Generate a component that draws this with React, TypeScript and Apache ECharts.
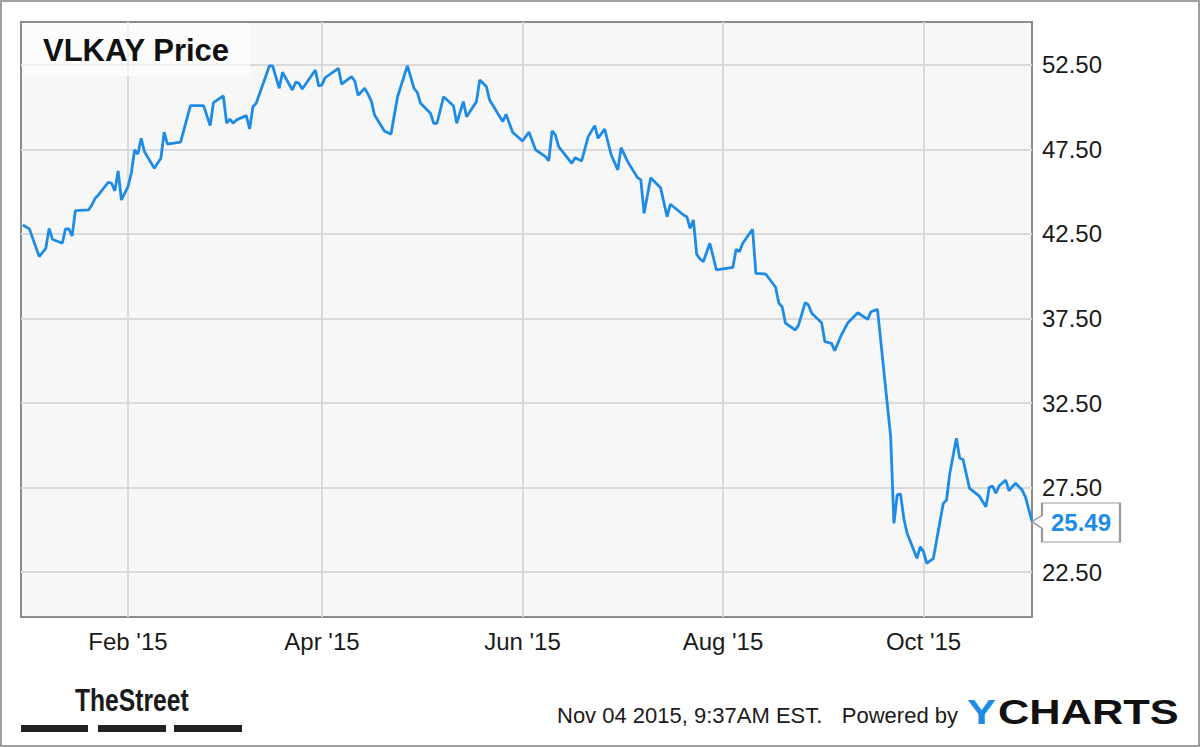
import React, { useEffect, useRef } from "react";
import * as echarts from "echarts";

// ---- data ----
const dates = [
  "2014-12-31", "2015-01-02", "2015-01-05", "2015-01-07", "2015-01-08", "2015-01-09", "2015-01-12", "2015-01-13",
  "2015-01-14", "2015-01-15", "2015-01-16", "2015-01-20", "2015-01-21", "2015-01-22", "2015-01-23", "2015-01-26",
  "2015-01-27", "2015-01-28", "2015-01-29", "2015-01-30", "2015-02-01", "2015-02-02", "2015-02-03", "2015-02-04",
  "2015-02-05", "2015-02-06", "2015-02-09", "2015-02-11", "2015-02-12", "2015-02-13", "2015-02-17", "2015-02-20",
  "2015-02-24", "2015-02-26", "2015-02-27", "2015-03-02", "2015-03-03", "2015-03-04", "2015-03-05", "2015-03-06",
  "2015-03-09", "2015-03-10", "2015-03-11", "2015-03-12", "2015-03-16", "2015-03-17", "2015-03-19", "2015-03-20",
  "2015-03-23", "2015-03-24", "2015-03-25", "2015-03-26", "2015-03-30", "2015-03-31", "2015-04-01", "2015-04-02",
  "2015-04-06", "2015-04-07", "2015-04-10", "2015-04-11", "2015-04-12", "2015-04-14", "2015-04-15", "2015-04-16",
  "2015-04-17", "2015-04-20", "2015-04-22", "2015-04-24", "2015-04-27", "2015-04-29", "2015-04-30", "2015-05-01",
  "2015-05-04", "2015-05-05", "2015-05-06", "2015-05-08", "2015-05-11", "2015-05-12", "2015-05-14", "2015-05-15",
  "2015-05-18", "2015-05-19", "2015-05-21", "2015-05-22", "2015-05-26", "2015-05-27", "2015-05-29", "2015-06-01",
  "2015-06-03", "2015-06-05", "2015-06-08", "2015-06-09", "2015-06-10", "2015-06-11", "2015-06-12", "2015-06-16",
  "2015-06-17", "2015-06-19", "2015-06-21", "2015-06-23", "2015-06-24", "2015-06-26", "2015-06-28", "2015-06-30",
  "2015-07-01", "2015-07-03", "2015-07-06", "2015-07-07", "2015-07-08", "2015-07-10", "2015-07-13", "2015-07-15",
  "2015-07-16", "2015-07-20", "2015-07-21", "2015-07-22", "2015-07-23", "2015-07-24", "2015-07-25", "2015-07-26",
  "2015-07-28", "2015-07-30", "2015-08-04", "2015-08-05", "2015-08-06", "2015-08-07", "2015-08-10", "2015-08-11",
  "2015-08-14", "2015-08-17", "2015-08-18", "2015-08-19", "2015-08-20", "2015-08-23", "2015-08-24", "2015-08-26",
  "2015-08-27", "2015-08-28", "2015-08-31", "2015-09-01", "2015-09-03", "2015-09-04", "2015-09-06", "2015-09-08",
  "2015-09-11", "2015-09-14", "2015-09-15", "2015-09-17", "2015-09-21", "2015-09-22", "2015-09-23", "2015-09-24",
  "2015-09-25", "2015-09-26", "2015-09-29", "2015-09-30", "2015-10-01", "2015-10-02", "2015-10-04", "2015-10-05",
  "2015-10-07", "2015-10-08", "2015-10-09", "2015-10-11", "2015-10-12", "2015-10-13", "2015-10-15", "2015-10-18",
  "2015-10-20", "2015-10-21", "2015-10-22", "2015-10-23", "2015-10-24", "2015-10-26", "2015-10-27", "2015-10-28",
  "2015-10-29", "2015-10-31", "2015-11-01", "2015-11-03",
];

const prices = [
  43.03, 42.8, 41.16, 41.65, 42.83, 42.19, 41.95, 42.8,
  42.8, 42.38, 43.88, 43.92, 44.22, 44.61, 44.81, 45.56,
  45.5, 45.05, 46.23, 44.51, 45.3, 46.09, 47.47, 47.23,
  48.16, 47.37, 46.39, 46.98, 48.52, 47.81, 47.93, 50.09,
  50.09, 48.91, 50.27, 50.67, 49.05, 49.3, 49.05, 49.25,
  49.5, 48.71, 50.03, 50.23, 52.44, 52.44, 51.12, 52.07,
  51.02, 51.48, 51.42, 51.08, 52.2, 51.26, 51.32, 51.75,
  52.3, 51.36, 51.81, 51.55, 50.7, 51.12, 50.77, 50.37,
  49.54, 48.59, 48.4, 50.62, 52.46, 51.12, 50.88, 50.23,
  49.64, 49.05, 49.05, 50.62, 50.09, 49.05, 50.33, 49.44,
  50.33, 51.61, 51.22, 50.43, 49.15, 49.58, 48.52, 48.0,
  48.52, 47.47, 47.07, 46.82, 48.59, 48.36, 47.67, 46.68,
  47.01, 46.82, 48.26, 48.91, 48.16, 48.71, 47.17, 46.29,
  47.61, 46.78, 45.83, 45.7, 43.72, 45.83, 45.24, 43.52,
  44.26, 43.62, 43.52, 42.83, 43.33, 41.3, 41.02, 40.86,
  41.95, 40.37, 40.53, 41.59, 41.45, 41.95, 42.78, 40.17,
  40.13, 39.35, 38.4, 38.2, 37.22, 36.82, 37.12, 38.44,
  38.3, 37.81, 37.25, 36.13, 36.03, 35.6, 36.52, 37.25,
  37.84, 37.45, 37.9, 38.04, 30.51, 25.38, 27.06, 27.12,
  25.68, 24.79, 23.31, 24.0, 23.7, 23.01, 23.31, 24.39,
  26.56, 26.76, 28.34, 30.41, 29.23, 29.17, 27.45, 26.99,
  26.36, 27.51, 27.59, 27.16, 27.59, 27.94, 27.31, 27.55,
  27.75, 27.35, 26.95, 25.49,
];

const tickDates = ["2015-02-01", "2015-04-01", "2015-06-01", "2015-08-01", "2015-10-01"];
const tickLabels = ["Feb '15", "Apr '15", "Jun '15", "Aug '15", "Oct '15"];
const priceTicks = [22.5, 27.5, 32.5, 37.5, 42.5, 47.5, 52.5];

const titleText = "VLKAY Price";
const stampText = "Nov 04 2015, 9:37AM EST.";
const poweredText = "Powered by";
const brandLeft = "TheStreet";
const brandY = "Y";
const brandRest = "CHARTS";

// ---- helpers ----
const EPOCH = Date.UTC(2015, 0, 1);
const toDay = (s: string) => {
  const [y, m, d] = s.split("-").map(Number);
  return Math.round((Date.UTC(y, m - 1, d) - EPOCH) / 86400000);
};

const BLUE = "#1e8ce6";
const FONT = "'Liberation Sans', Arial, Helvetica, sans-serif";

export default function App() {
  const ref = useRef<HTMLDivElement>(null);

  useEffect(() => {
    document.body.style.margin = "0";
    if (!ref.current) return;
    const chart = echarts.init(ref.current, null, { renderer: "svg" });

    const days = dates.map(toDay);
    const seriesData = days.map((d, i) => [d, prices[i]]);
    const tickDays = tickDates.map(toDay);
    const last = seriesData[seriesData.length - 1];

    const option: any = {
      animation: false,
      backgroundColor: "#ffffff",
      grid: {
        left: 21,
        top: 22,
        right: 168,
        bottom: 130,
        show: true,
        backgroundColor: "#f7f7f7",
        borderColor: "#8c8c8c",
        borderWidth: 2,
      },
      xAxis: {
        type: "value",
        min: -1.55,
        max: 306,
        axisLine: { show: false },
        axisTick: { show: false, customValues: tickDays },
        axisLabel: {
          customValues: tickDays,
          formatter: (v: number) => {
            const i = tickDays.indexOf(Math.round(v));
            return i >= 0 ? tickLabels[i] : "";
          },
          fontSize: 24,
          color: "#1a1a1a",
          margin: 12,
          fontFamily: FONT,
        },
        splitLine: { show: true, lineStyle: { color: "#dadada", width: 2 } },
      },
      yAxis: {
        type: "value",
        position: "right",
        min: 19.84,
        max: 55.04,
        axisLine: { show: false },
        axisTick: { show: false, customValues: priceTicks },
        axisLabel: {
          customValues: priceTicks,
          formatter: (v: number) => v.toFixed(2),
          fontSize: 24,
          color: "#1a1a1a",
          margin: 10,
          fontFamily: FONT,
        },
        splitLine: { show: true, lineStyle: { color: "#dadada", width: 2 } },
      },
      series: [
        {
          type: "line",
          data: seriesData,
          symbol: "none",
          showSymbol: false,
          lineStyle: { color: BLUE, width: 2.8 },
          markPoint: {
            silent: true,
            symbol: "path://M0,18.5 L10,12.5 L10,0 L88,0 L88,39 L10,39 L10,25.5 Z",
            symbolSize: [88, 39],
            symbolOffset: [44, 1],
            symbolKeepAspect: false,
            itemStyle: { color: "#ffffff", borderColor: "#9a9a9a", borderWidth: 1.5 },
            label: {
              show: true,
              position: "inside",
              offset: [5, 0],
              formatter: (p: any) => Number(p.value).toFixed(2),
              color: BLUE,
              fontSize: 24,
              fontWeight: "bold",
              fontFamily: FONT,
            },
            data: [{ coord: last, value: last[1] }],
          },
        },
      ],
      graphic: [
        {
          type: "rect",
          z: 100,
          shape: { x: 1, y: 1, width: 1198, height: 745 },
          style: { fill: "none", stroke: "#a0a0a0", lineWidth: 2 },
        },
        {
          type: "rect",
          z: 100,
          shape: { x: 22, y: 23, width: 228, height: 53 },
          style: { fill: "rgba(255,255,255,0.6)" },
        },
        {
          type: "text",
          z: 101,
          x: 43,
          y: 50,
          style: {
            text: titleText,
            fontSize: 31,
            fontWeight: "bold",
            fill: "#111",
            fontFamily: FONT,
            verticalAlign: "middle",
          },
        },
        {
          type: "text",
          z: 101,
          x: 75,
          y: 700,
          scaleX: 0.77,
          style: {
            text: brandLeft,
            fontSize: 32,
            fontWeight: "bold",
            fill: "#1a1a1a",
            fontFamily: FONT,
            verticalAlign: "middle",
          },
        },
        { type: "rect", z: 101, shape: { x: 21, y: 725, width: 67, height: 7 }, style: { fill: "#222" } },
        { type: "rect", z: 101, shape: { x: 98, y: 725, width: 68, height: 7 }, style: { fill: "#222" } },
        { type: "rect", z: 101, shape: { x: 174, y: 725, width: 68, height: 7 }, style: { fill: "#222" } },
        {
          type: "text",
          z: 101,
          x: 557,
          y: 715,
          style: { text: stampText, fontSize: 22, fill: "#1a1a1a", fontFamily: FONT, verticalAlign: "middle" },
        },
        {
          type: "text",
          z: 101,
          x: 958,
          y: 715,
          style: {
            text: poweredText,
            fontSize: 22,
            fill: "#1a1a1a",
            fontFamily: FONT,
            verticalAlign: "middle",
            align: "right",
          },
        },
        {
          type: "text",
          z: 101,
          x: 967,
          y: 712,
          scaleX: 1.24,
          style: {
            text: brandY,
            fontSize: 35,
            fontWeight: "bold",
            fill: BLUE,
            fontFamily: FONT,
            verticalAlign: "middle",
          },
        },
        {
          type: "text",
          z: 101,
          x: 998,
          y: 712,
          scaleX: 1.24,
          style: {
            text: brandRest,
            fontSize: 35,
            fontWeight: "bold",
            fill: "#111",
            fontFamily: FONT,
            verticalAlign: "middle",
          },
        },
      ],
    };

    chart.setOption(option);
    return () => {
      chart.dispose();
    };
  }, []);

  return <div ref={ref} style={{ width: 1200, height: 747 }} />;
}
